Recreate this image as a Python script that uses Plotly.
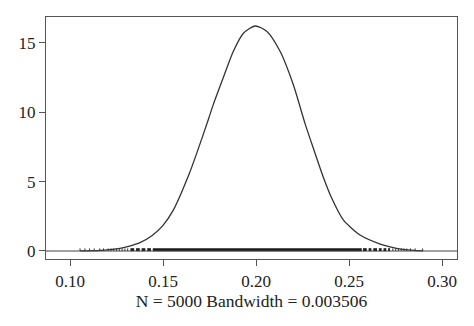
import plotly.graph_objects as go

# Kernel density estimate (x, density) of the 5000 sampled values
dens_x = [0.1054, 0.112, 0.120, 0.1269, 0.132, 0.1376, 0.144, 0.150, 0.1556,
          0.1636, 0.168, 0.1744, 0.177, 0.1824, 0.1878, 0.1932, 0.1995,
          0.2057, 0.2129, 0.220, 0.2263, 0.2308, 0.2362, 0.2407, 0.2469,
          0.2559, 0.2667, 0.272, 0.280, 0.2898]
dens_y = [0.0, 0.02, 0.08, 0.19, 0.35, 0.6, 1.1, 1.85, 2.96,
          5.4, 7.0, 9.5, 10.55, 12.5, 14.4, 15.7, 16.22,
          15.85, 14.4, 12.0, 9.2, 7.4, 5.3, 3.8, 2.24,
          1.15, 0.5, 0.3, 0.1, 0.0]

# Rug: isolated observations in the tails ...
rug_ticks = [0.1054, 0.108, 0.1105, 0.113, 0.116, 0.118, 0.1205, 0.122,
             0.1235, 0.125, 0.1265, 0.128, 0.1295, 0.131,
             0.2735, 0.275, 0.2765, 0.278, 0.2795, 0.281, 0.283, 0.2855, 0.2895]
# ... and stretches where the rug marks merge into a solid band
rug_bands = [(0.1325, 0.1345), (0.1355, 0.1375), (0.1385, 0.1405),
             (0.1415, 0.1435), (0.1445, 0.2568), (0.2575, 0.2595),
             (0.2605, 0.2620), (0.2630, 0.2650), (0.2660, 0.2675),
             (0.2685, 0.2700), (0.2710, 0.2720)]

x_ticks = [0.10, 0.15, 0.20, 0.25, 0.30]
y_ticks = [0, 5, 10, 15]
x_title = "N = 5000 Bandwidth = 0.003506"

RUG_H = 0.18
FONT = "Liberation Serif, Times New Roman, serif"
INK = "#333333"

fig = go.Figure()

# zero reference line across the panel
fig.add_hline(y=0, line=dict(color="#444444", width=1.1))

# rug ticks
tx, ty = [], []
for v in rug_ticks:
    tx += [v, v, None]
    ty += [0, RUG_H, None]
fig.add_trace(go.Scatter(x=tx, y=ty, mode="lines",
                         line=dict(color="#333333", width=1),
                         hoverinfo="skip", showlegend=False))

# rug bands
bx, by = [], []
for a, b in rug_bands:
    bx += [a, b, None]
    by += [RUG_H / 2, RUG_H / 2, None]
fig.add_trace(go.Scatter(x=bx, y=by, mode="lines",
                         line=dict(color="#1a1a1a", width=3),
                         hoverinfo="skip", showlegend=False))

# density curve
fig.add_trace(go.Scatter(x=dens_x, y=dens_y, mode="lines",
                         line=dict(color=INK, width=1.3, shape="spline",
                                   smoothing=0.7),
                         showlegend=False))

axis_common = dict(showline=True, mirror=True, linecolor="#555555",
                   linewidth=1.2, ticks="outside", ticklen=6, tickwidth=1,
                   tickcolor="#555555", showgrid=False, zeroline=False,
                   tickfont=dict(family=FONT, size=17, color="#222222"))

fig.update_layout(
    width=474, height=326,
    margin=dict(l=46, r=17, t=17, b=67),
    paper_bgcolor="white", plot_bgcolor="white",
    xaxis=dict(range=[0.0871, 0.308], tickvals=x_ticks,
               ticktext=[f"{v:.2f}" for v in x_ticks],
               title=dict(text=x_title, standoff=3,
                          font=dict(family=FONT, size=17.5, color="#222222")),
               **axis_common),
    yaxis=dict(range=[-0.58, 16.87], tickvals=y_ticks,
               ticktext=[str(v) for v in y_ticks], **axis_common),
)

fig.write_html("out.html")
